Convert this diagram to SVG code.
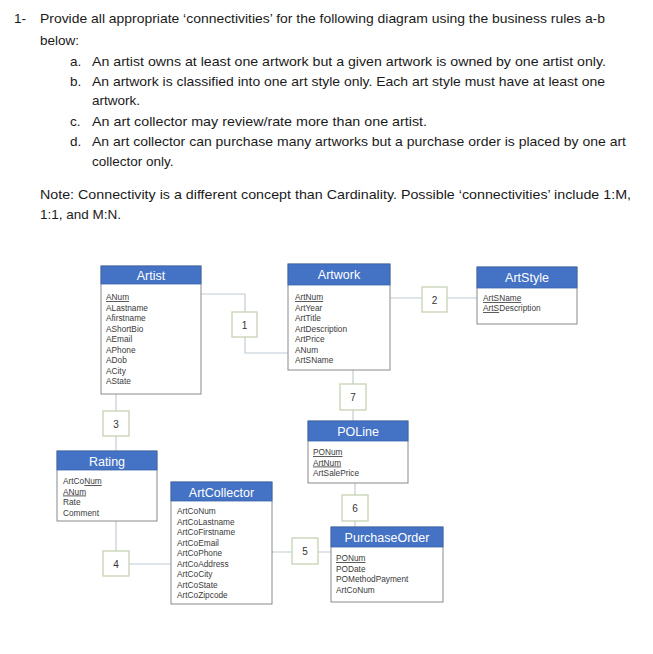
<svg xmlns="http://www.w3.org/2000/svg" width="653" height="654" viewBox="0 0 653 654">
<defs>
<style>
.q{font-family:"Liberation Sans",Arial,sans-serif;font-size:13.5px;fill:#1a1a1a}
.hd{fill:#4472c4;stroke:#3b64ad;stroke-width:0.8}
.bd{fill:#fff;stroke:#8a8a8a;stroke-width:1}
.ht{font-family:"Liberation Sans",Arial,sans-serif;font-size:12.5px;fill:#fff;text-anchor:middle}
.at{font-family:"Liberation Sans",Arial,sans-serif;font-size:8.3px;fill:#3a3a3a}
.u{text-decoration:underline}
.ln{fill:none;stroke:#c2ccd6;stroke-width:1.2}
.cb{fill:#fff;stroke:#c6d3b4;stroke-width:1.3}
.ct{font-family:"Liberation Sans",Arial,sans-serif;font-size:10px;fill:#333;text-anchor:middle}
</style>
</defs>
<rect width="653" height="654" fill="#fff"/>
<g id="question">
<text class="q" x="14" y="23">1-</text>
<text class="q" x="40" y="23" textLength="565" lengthAdjust="spacingAndGlyphs">Provide all appropriate ‘connectivities’ for the following diagram using the business rules a-b</text>
<text class="q" x="40" y="45">below:</text>
<text class="q" x="70" y="66">a.</text>
<text class="q" x="92" y="66" textLength="514" lengthAdjust="spacingAndGlyphs">An artist owns at least one artwork but a given artwork is owned by one artist only.</text>
<text class="q" x="70" y="86">b.</text>
<text class="q" x="92" y="86" textLength="513" lengthAdjust="spacingAndGlyphs">An artwork is classified into one art style only. Each art style must have at least one</text>
<text class="q" x="92" y="105">artwork.</text>
<text class="q" x="70" y="126">c.</text>
<text class="q" x="92" y="126" textLength="335" lengthAdjust="spacingAndGlyphs">An art collector may review/rate more than one artist.</text>
<text class="q" x="70" y="146">d.</text>
<text class="q" x="92" y="146" textLength="534" lengthAdjust="spacingAndGlyphs">An art collector can purchase many artworks but a purchase order is placed by one art</text>
<text class="q" x="92" y="166">collector only.</text>
<text class="q" x="40" y="199" textLength="591" lengthAdjust="spacingAndGlyphs">Note: Connectivity is a different concept than Cardinality. Possible ‘connectivities’ include 1:M,</text>
<text class="q" x="40" y="219">1:1, and M:N.</text>
</g>
<g id="connectors">
<polyline class="ln" points="201,294 245,294 245,353 288,353"/>
<line class="ln" x1="390" y1="298" x2="477" y2="298"/>
<line class="ln" x1="353" y1="370" x2="353" y2="421"/>
<line class="ln" x1="116" y1="394" x2="116" y2="451"/>
<polyline class="ln" points="116,521 116,564 171,564"/>
<line class="ln" x1="272" y1="552" x2="331" y2="552"/>
<line class="ln" x1="355" y1="483" x2="355" y2="527"/>
<g id="c1"><rect class="cb" x="232" y="312" width="25" height="25"/><text class="ct" x="244.5" y="328.5">1</text></g>
<g id="c2"><rect class="cb" x="422" y="287" width="25" height="25"/><text class="ct" x="434.5" y="303.5">2</text></g>
<g id="c3"><rect class="cb" x="103" y="411" width="26" height="25"/><text class="ct" x="116" y="427.5">3</text></g>
<g id="c4"><rect class="cb" x="103" y="551" width="26" height="25"/><text class="ct" x="116" y="567.5">4</text></g>
<g id="c5"><rect class="cb" x="292" y="538" width="26" height="26"/><text class="ct" x="305" y="555">5</text></g>
<g id="c6"><rect class="cb" x="342" y="495" width="26" height="26"/><text class="ct" x="355" y="512">6</text></g>
<g id="c7"><rect class="cb" x="340" y="384" width="26" height="26"/><text class="ct" x="353" y="401">7</text></g>
</g>
<g id="artist">
<rect class="bd" x="101" y="266" width="100" height="128"/>
<rect class="hd" x="101" y="266" width="100" height="18"/>
<text class="ht" x="151" y="279.5">Artist</text>
<text class="at" x="106" y="300"><tspan class="u">ANum</tspan></text>
<text class="at" x="106" y="310.5">ALastname</text>
<text class="at" x="106" y="321">Afirstname</text>
<text class="at" x="106" y="331.5">AShortBio</text>
<text class="at" x="106" y="342">AEmail</text>
<text class="at" x="106" y="352.5">APhone</text>
<text class="at" x="106" y="363">ADob</text>
<text class="at" x="106" y="373.5">ACity</text>
<text class="at" x="106" y="384">AState</text>
</g>
<g id="artwork">
<rect class="bd" x="288" y="264" width="102" height="106"/>
<rect class="hd" x="288" y="264" width="102" height="21"/>
<text class="ht" x="339" y="279">Artwork</text>
<text class="at" x="295" y="300"><tspan class="u">ArtNum</tspan></text>
<text class="at" x="295" y="310.5">ArtYear</text>
<text class="at" x="295" y="321">ArtTitle</text>
<text class="at" x="295" y="331.5">ArtDescription</text>
<text class="at" x="295" y="342">ArtPrice</text>
<text class="at" x="295" y="352.5">ANum</text>
<text class="at" x="295" y="363">ArtSName</text>
</g>
<g id="artstyle">
<rect class="bd" x="477" y="267" width="100" height="57"/>
<rect class="hd" x="477" y="267" width="100" height="21"/>
<text class="ht" x="527" y="282">ArtStyle</text>
<text class="at" x="483" y="301"><tspan class="u">ArtSName</tspan></text>
<text class="at" x="483" y="311"><tspan class="u">ArtS</tspan>Description</text>
</g>
<g id="rating">
<rect class="bd" x="57" y="451" width="100" height="70"/>
<rect class="hd" x="57" y="451" width="100" height="19"/>
<text class="ht" x="107" y="465.5">Rating</text>
<text class="at" x="63" y="484">ArtCo<tspan class="u">Num</tspan></text>
<text class="at" x="63" y="494.5"><tspan class="u">ANum</tspan></text>
<text class="at" x="63" y="505">Rate</text>
<text class="at" x="63" y="515.5">Comment</text>
</g>
<g id="artcollector">
<rect class="bd" x="171" y="482" width="101" height="122"/>
<rect class="hd" x="171" y="482" width="101" height="19"/>
<text class="ht" x="221.5" y="496.5">ArtCollector</text>
<text class="at" x="177" y="514">ArtCoNum</text>
<text class="at" x="177" y="524.5">ArtCoLastname</text>
<text class="at" x="177" y="535">ArtCoFirstname</text>
<text class="at" x="177" y="545.5">ArtCoEmail</text>
<text class="at" x="177" y="556">ArtCoPhone</text>
<text class="at" x="177" y="566.5">ArtCoAddress</text>
<text class="at" x="177" y="577">ArtCoCity</text>
<text class="at" x="177" y="587.5">ArtCoState</text>
<text class="at" x="177" y="598">ArtCoZipcode</text>
</g>
<g id="poline">
<rect class="bd" x="308" y="421" width="100" height="62"/>
<rect class="hd" x="308" y="421" width="100" height="20"/>
<text class="ht" x="358" y="435.5">POLine</text>
<text class="at" x="313" y="455"><tspan class="u">PONum</tspan></text>
<text class="at" x="313" y="465.5"><tspan class="u">ArtNum</tspan></text>
<text class="at" x="313" y="476">ArtSalePrice</text>
</g>
<g id="purchaseorder">
<rect class="bd" x="331" y="527" width="112" height="75"/>
<rect class="hd" x="331" y="527" width="112" height="20"/>
<text class="ht" x="387" y="541.5">PurchaseOrder</text>
<text class="at" x="336" y="561"><tspan class="u">PONum</tspan></text>
<text class="at" x="336" y="571.5">PODate</text>
<text class="at" x="336" y="582">POMethodPayment</text>
<text class="at" x="336" y="592.5">ArtCoNum</text>
</g>
</svg>
